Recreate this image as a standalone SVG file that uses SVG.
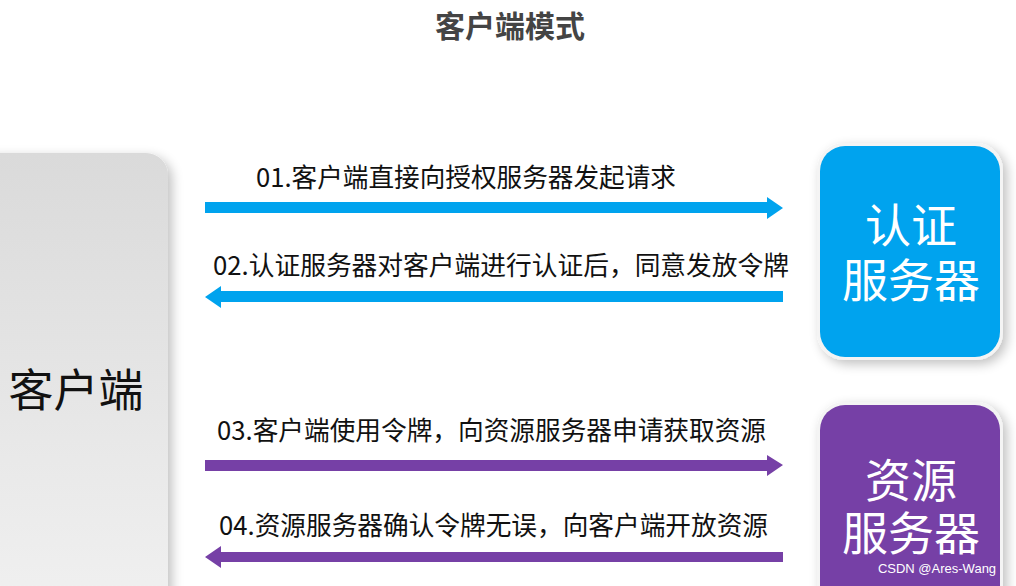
<svg xmlns="http://www.w3.org/2000/svg" width="1016" height="586" viewBox="0 0 1016 586">
<defs>
<linearGradient id="gClient" x1="0" y1="0" x2="0" y2="1">
<stop offset="0" stop-color="#dadada"/>
<stop offset="1" stop-color="#f1f1f1"/>
</linearGradient>
<filter id="sh" x="-20%" y="-20%" width="140%" height="140%">
<feGaussianBlur in="SourceAlpha" stdDeviation="6"/>
<feOffset dx="4" dy="4"/>
<feComponentTransfer><feFuncA type="linear" slope="0.25"/></feComponentTransfer>
<feMerge><feMergeNode/><feMergeNode in="SourceGraphic"/></feMerge>
</filter>
<style>
.lbl{font-family:"Microsoft YaHei","Noto Sans CJK SC",sans-serif;font-size:26px;fill:#111}
.big{font-family:"Liberation Sans","Noto Sans CJK SC",sans-serif;font-size:46px;fill:#fff;text-anchor:middle}
.blue{fill:#00a3ee}
.purple{fill:#7640a6}
</style>
</defs>
<rect width="1016" height="586" fill="#ffffff"/>
<text x="510" y="37" text-anchor="middle" font-family="Noto Sans CJK SC, sans-serif" font-weight="bold" font-size="30" fill="#444">客户端模式</text>

<g id="client">
<rect x="-30" y="153" width="198" height="470" rx="22" fill="url(#gClient)" filter="url(#sh)"/>
<text x="76" y="407" text-anchor="middle" font-family="Noto Sans CJK SC, sans-serif" font-size="45" fill="#111">客户端</text>
</g>

<g id="auth-server">
<rect x="817" y="143" width="186" height="217" rx="27" fill="#f4f4f4" filter="url(#sh)"/>
<rect x="820" y="146" width="180" height="211" rx="25" class="blue"/>
<text class="big"><tspan x="911" y="242">认证</tspan><tspan x="911" y="297">服务器</tspan></text>
</g>

<g id="resource-server">
<rect x="817" y="402" width="186" height="220" rx="27" fill="#f4f4f4" filter="url(#sh)"/>
<rect x="820" y="405" width="180" height="214" rx="25" class="purple"/>
<text class="big"><tspan x="911" y="497">资源</tspan><tspan x="911" y="550">服务器</tspan></text>
<text x="937" y="573" text-anchor="middle" font-family="Liberation Sans, sans-serif" font-size="13" fill="#fff">CSDN @Ares-Wang</text>
</g>

<g id="connectors">
<polygon class="blue" points="205,202 767,202 767,197 783,208 767,219 767,213 205,213"/>
<polygon class="blue" points="783,291 221,291 221,286 205,297 221,308 221,302 783,302"/>
<polygon class="purple" points="205,460 767,460 767,455 783,465 767,476 767,471 205,471"/>
<polygon class="purple" points="783,552 221,552 221,546 205,557 221,568 221,562 783,562"/>
<text x="256" y="187" class="lbl" textLength="420" lengthAdjust="spacingAndGlyphs">01.客户端直接向授权服务器发起请求</text>
<text x="213" y="275" class="lbl" textLength="576" lengthAdjust="spacingAndGlyphs">02.认证服务器对客户端进行认证后，同意发放令牌</text>
<text x="217" y="440" class="lbl" textLength="549" lengthAdjust="spacingAndGlyphs">03.客户端使用令牌，向资源服务器申请获取资源</text>
<text x="219" y="535" class="lbl" textLength="549" lengthAdjust="spacingAndGlyphs">04.资源服务器确认令牌无误，向客户端开放资源</text>
</g>
</svg>
